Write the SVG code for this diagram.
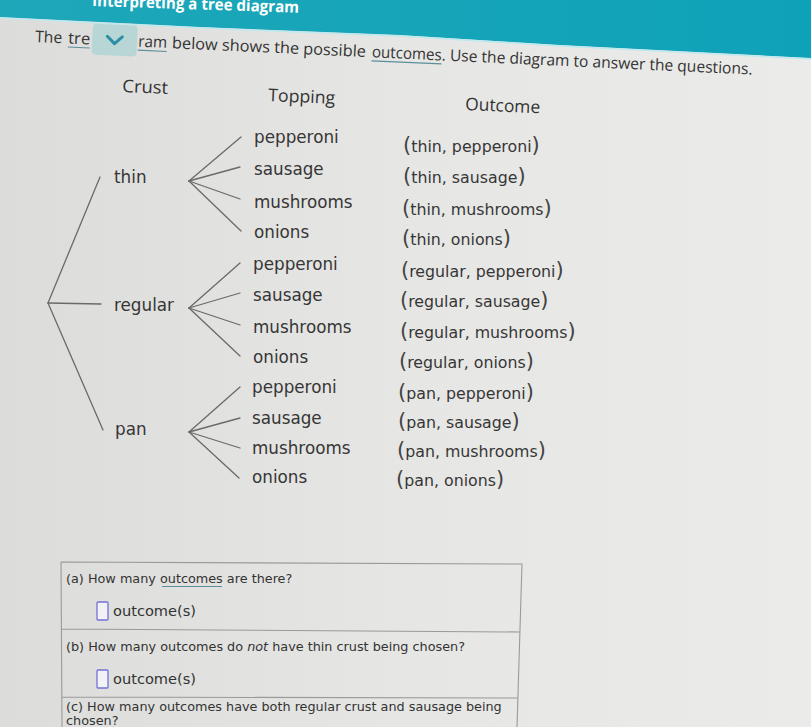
<svg xmlns="http://www.w3.org/2000/svg" width="811" height="727" viewBox="0 0 811 727">
<defs>
<linearGradient id="bg" x1="0" y1="0" x2="1" y2="0">
<stop offset="0" stop-color="#dcdcda"/>
<stop offset="0.5" stop-color="#e6e6e4"/>
<stop offset="1" stop-color="#ebebe9"/>
</linearGradient>
<linearGradient id="band" x1="0" y1="0" x2="1" y2="0">
<stop offset="0" stop-color="#1ea7b9"/>
<stop offset="1" stop-color="#0ea2b8"/>
</linearGradient>
<style>
.hdr{font-family:"Open Sans","Liberation Sans",sans-serif;fill:#333;font-size:17.5px}
.ins{font-family:"Open Sans","Liberation Sans",sans-serif;fill:#333;font-size:16px}
.t{font-family:"DejaVu Sans",Verdana,sans-serif;fill:#363636;font-size:16.8px}
.o{font-family:"DejaVu Sans",Verdana,sans-serif;fill:#363636;font-size:15.8px}
.p{font-size:21px;fill:#444}
.q{font-family:"DejaVu Sans",Verdana,sans-serif;fill:#333;font-size:12.8px}
.a{font-family:"DejaVu Sans",Verdana,sans-serif;fill:#333;font-size:14.6px}
.edge{stroke:#6a6a6a;stroke-width:1.3;fill:none;stroke-linecap:round}
.ul{stroke:#5a8f9c;stroke-width:1.2}
.box{stroke:#9a9a9a;stroke-width:1.1;fill:none}
.in{fill:#f2f2f6;stroke:#7272d6;stroke-width:1.3}
</style>
</defs>
<rect x="0" y="0" width="811" height="727" fill="url(#bg)"/>
<polygon points="0,0 811,0 811,58 560,45 400,35 200,27 0,17" fill="url(#band)"/>
<polyline points="0,18 200,28 400,36 560,46 811,59" fill="none" stroke="#bfe9ef" stroke-width="1.5"/>
<text x="92" y="6" transform="rotate(1.9 92 6)" font-family="'Open Sans','Liberation Sans',sans-serif" font-weight="bold" font-size="16" fill="#ffffff" textLength="207" lengthAdjust="spacingAndGlyphs">Interpreting a tree diagram</text>

<g id="instruction" transform="rotate(2.6 35 42)">
<text class="ins" x="35" y="42" textLength="27" lengthAdjust="spacingAndGlyphs">The</text>
<text class="ins" x="68" y="42" textLength="22" lengthAdjust="spacingAndGlyphs">tre</text>
<line class="ul" x1="68" y1="45.5" x2="90" y2="45.5"/>
<rect x="92" y="21" width="45" height="31" rx="4" fill="#b9d6d6"/>
<polyline points="107,33 114.5,40 122,33" fill="none" stroke="#2a8fa6" stroke-width="3" stroke-linecap="round" stroke-linejoin="round"/>
<text class="ins" x="138" y="42" textLength="29" lengthAdjust="spacingAndGlyphs">ram</text>
<line class="ul" x1="138" y1="45.5" x2="167" y2="45.5"/>
<text class="ins" x="172" y="42" textLength="194" lengthAdjust="spacingAndGlyphs">below shows the possible</text>
<text class="ins" x="372" y="42" textLength="70" lengthAdjust="spacingAndGlyphs">outcomes</text>
<line class="ul" x1="372" y1="45.5" x2="442" y2="45.5"/>
<text class="ins" x="442" y="42" textLength="311" lengthAdjust="spacingAndGlyphs">. Use the diagram to answer the questions.</text>
</g>

<g id="headers">
<text class="hdr" x="122" y="92" transform="rotate(2.5 122 92)" textLength="46" lengthAdjust="spacingAndGlyphs">Crust</text>
<text class="hdr" x="268" y="101" transform="rotate(2.5 268 101)" textLength="67" lengthAdjust="spacingAndGlyphs">Topping</text>
<text class="hdr" x="465" y="110" transform="rotate(2.5 465 110)" textLength="75" lengthAdjust="spacingAndGlyphs">Outcome</text>
</g>

<g id="connectors">
<line class="edge" x1="48" y1="303" x2="100" y2="177"/>
<line class="edge" x1="48" y1="303" x2="101" y2="304"/>
<line class="edge" x1="48" y1="303" x2="103" y2="430"/>
<line class="edge" x1="189" y1="181" x2="241" y2="137"/>
<line class="edge" x1="189" y1="181" x2="240" y2="167"/>
<line class="edge" x1="189" y1="181" x2="240" y2="199"/>
<line class="edge" x1="189" y1="181" x2="241" y2="231"/>
<line class="edge" x1="189" y1="308" x2="240" y2="263"/>
<line class="edge" x1="189" y1="308" x2="240" y2="293"/>
<line class="edge" x1="189" y1="308" x2="240" y2="325"/>
<line class="edge" x1="189" y1="308" x2="240" y2="356"/>
<line class="edge" x1="189" y1="432" x2="240" y2="387"/>
<line class="edge" x1="189" y1="432" x2="240" y2="418"/>
<line class="edge" x1="189" y1="432" x2="240" y2="448"/>
<line class="edge" x1="189" y1="432" x2="239" y2="478"/>
</g>

<g id="crust-thin"><text class="t" x="114" y="183">thin</text></g>
<g id="crust-regular"><text class="t" x="114" y="311">regular</text></g>
<g id="crust-pan"><text class="t" x="115" y="435">pan</text></g>

<g id="topping-thin-pepperoni"><text class="t" x="254" y="143">pepperoni</text></g>
<g id="topping-thin-sausage"><text class="t" x="254" y="175">sausage</text></g>
<g id="topping-thin-mushrooms"><text class="t" x="254" y="208">mushrooms</text></g>
<g id="topping-thin-onions"><text class="t" x="254" y="238">onions</text></g>
<g id="topping-regular-pepperoni"><text class="t" x="253" y="270">pepperoni</text></g>
<g id="topping-regular-sausage"><text class="t" x="253" y="301">sausage</text></g>
<g id="topping-regular-mushrooms"><text class="t" x="253" y="333">mushrooms</text></g>
<g id="topping-regular-onions"><text class="t" x="253" y="363">onions</text></g>
<g id="topping-pan-pepperoni"><text class="t" x="252" y="393">pepperoni</text></g>
<g id="topping-pan-sausage"><text class="t" x="252" y="424">sausage</text></g>
<g id="topping-pan-mushrooms"><text class="t" x="252" y="454">mushrooms</text></g>
<g id="topping-pan-onions"><text class="t" x="252" y="483">onions</text></g>

<g id="outcomes">
<text class="o" x="403" y="152"><tspan class="p">(</tspan>thin, pepperoni<tspan class="p">)</tspan></text>
<text class="o" x="403" y="183"><tspan class="p">(</tspan>thin, sausage<tspan class="p">)</tspan></text>
<text class="o" x="402" y="215"><tspan class="p">(</tspan>thin, mushrooms<tspan class="p">)</tspan></text>
<text class="o" x="402" y="245"><tspan class="p">(</tspan>thin, onions<tspan class="p">)</tspan></text>
<text class="o" x="401" y="277"><tspan class="p">(</tspan>regular, pepperoni<tspan class="p">)</tspan></text>
<text class="o" x="400" y="307"><tspan class="p">(</tspan>regular, sausage<tspan class="p">)</tspan></text>
<text class="o" x="400" y="338"><tspan class="p">(</tspan>regular, mushrooms<tspan class="p">)</tspan></text>
<text class="o" x="399" y="368"><tspan class="p">(</tspan>regular, onions<tspan class="p">)</tspan></text>
<text class="o" x="398" y="399"><tspan class="p">(</tspan>pan, pepperoni<tspan class="p">)</tspan></text>
<text class="o" x="398" y="428"><tspan class="p">(</tspan>pan, sausage<tspan class="p">)</tspan></text>
<text class="o" x="397" y="457"><tspan class="p">(</tspan>pan, mushrooms<tspan class="p">)</tspan></text>
<text class="o" x="396" y="486"><tspan class="p">(</tspan>pan, onions<tspan class="p">)</tspan></text>
</g>

<g id="questions">
<path class="box" d="M61,562 L522,564 L517,727 M61,562 L62,727 M61,629 L520,632 M62,697 L518,698"/>
<text class="q" x="66" y="583">(a) How many <tspan>outcomes</tspan> are there?</text>
<line class="ul" x1="162" y1="586.5" x2="222" y2="586.5"/>
<rect class="in" x="97" y="602" width="11" height="18" rx="1"/>
<text class="a" x="113" y="616">outcome(s)</text>
<text class="q" x="66" y="651">(b) How many outcomes do <tspan font-style="italic">not</tspan> have thin crust being chosen?</text>
<rect class="in" x="97" y="670" width="11" height="18" rx="1"/>
<text class="a" x="113" y="684">outcome(s)</text>
<text class="q" x="66" y="711">(c) How many outcomes have both regular crust and sausage being</text>
<text class="q" x="66" y="725">chosen?</text>
</g>
</svg>
